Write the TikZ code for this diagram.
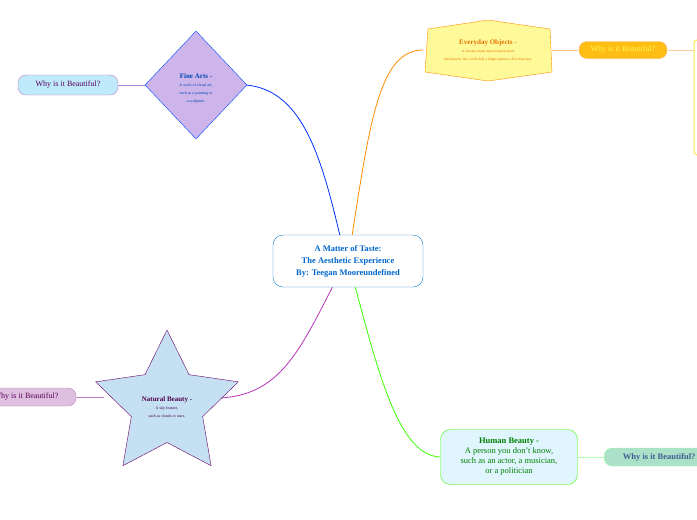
\documentclass[tikz,border=0pt]{standalone}
\usepackage{fontspec}
\setmainfont{Liberation Serif}
\usetikzlibrary{shapes.geometric}
\definecolor{starfill}{RGB}{196,224,242}
\definecolor{amber}{RGB}{255,190,20}
\definecolor{lav}{RGB}{205,180,235}
\definecolor{teal1}{RGB}{170,225,200}
\begin{document}
\begin{tikzpicture}[x=1pt,y=-1pt,
 why/.style={rounded corners=8pt,minimum height=20pt,font=\fontsize{8}{9}\selectfont,inner xsep=8pt}]
\useasboundingbox (0,0) rectangle (697,520);
% connectors
\draw[blue!80!cyan,thick] (340,236) .. controls (320,150) and (300,90) .. (246,85);
\draw[orange!90!yellow,thick] (352,236) .. controls (370,120) and (380,50) .. (423,50);
\draw[violet!70!magenta!80,thick] (333,286) .. controls (300,350) and (280,395) .. (220,398);
\draw[green!70!lime,thick] (355,286) .. controls (380,380) and (400,455) .. (440,457);
\draw[blue!40!violet!50,thin] (118,85) -- (146,85);
\draw[orange!50,thin] (552,50) -- (578,50);
\draw[orange!40,thin] (668,50) -- (694,50);
\draw[violet!50,thin] (76,397) -- (104,397);
\draw[green!30,thin] (578,457) -- (604,457);
% center
\node[draw=cyan!60!blue,fill=white,rounded corners=10pt,minimum width=150pt,minimum height=52pt,align=center,text=blue!50!cyan!80!black,font=\bfseries\fontsize{8.5}{12}\selectfont] (c) at (348,261) {A Matter of Taste:\\The Aesthetic Experience\\By: Teegan Mooreundefined};
% fine arts diamond
\node[diamond,draw=blue!70!cyan,fill=lav,minimum width=102pt,minimum height=108pt,inner sep=0pt] (fa) at (196,85) {};
\node[align=center,text=blue!60!cyan!70!black,font=\fontsize{4}{8}\selectfont] at (196,88) {{\bfseries\fontsize{7}{9}\selectfont Fine Arts -}\\A work of visual art,\\such as a painting or\\a sculpture.};
\node[why,draw=violet!50,fill=cyan!25,text=violet!70!black,minimum width=100pt] (w1) at (68,85) {Why is it Beautiful?};
% everyday objects
\draw[orange!90!yellow,fill=yellow!40] (428,29) -- (488,20) -- (550,29) -- (552,72) -- (488,81) -- (425,72) -- cycle;
\node[align=center,text=orange!90!black,font=\fontsize{3.6}{8}\selectfont] (eo) at (488,50) {{\bfseries\fontsize{7}{9}\selectfont Everyday Objects -}\\A cheaply made mass-manufactured\\knickknack, like a troll doll, a fidget spinner, a Pez dispenser};
\node[why,fill=amber,draw=orange!60,text=yellow!70,minimum width=88pt,minimum height=17pt] (w2) at (623,50) {Why is it Beautiful?};
\draw[orange!25!yellow!70,fill=white,line width=1pt,rounded corners=3pt] (694,40) rectangle (705,155);
% natural beauty star
\node[star,star points=5,star point ratio=2.0,draw=violet!80!black,fill=starfill,minimum size=150pt,inner sep=0pt] (nb) at (167,405) {};
\node[align=center,text=violet!60!black,font=\fontsize{4}{8}\selectfont] at (167,407) {{\bfseries\fontsize{7}{9}\selectfont Natural Beauty -}\\A sky feature,\\such as clouds or stars.};
\node[why,draw=violet!50,fill=violet!25,text=violet!70!black,minimum width=100pt,minimum height=18pt] (w3) at (26,397) {Why is it Beautiful?};
% human beauty
\node[draw=green!70!lime,fill=cyan!12,rounded corners=10pt,minimum width=137pt,minimum height=55pt,align=center,text=green!50!black,font=\fontsize{8.5}{10}\selectfont] (hb) at (509,457) {{\bfseries Human Beauty -}\\A person you don't know,\\such as an actor, a musician,\\or a politician};
\node[why,draw=green!40,fill=teal1,text=cyan!40!blue!70!black,font=\bfseries\fontsize{8.5}{9}\selectfont,minimum width=110pt,minimum height=18pt,anchor=west] (w4) at (604,457) {Why is it Beautiful?};
\end{tikzpicture}
\end{document}
